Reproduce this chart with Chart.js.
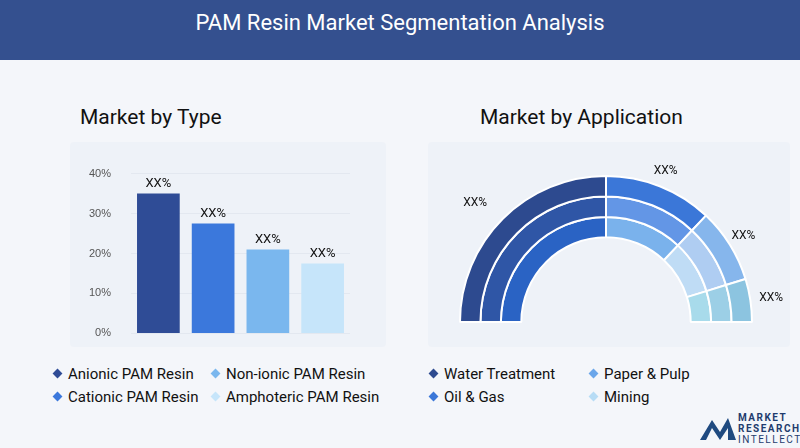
<!DOCTYPE html>
<html><head><meta charset="utf-8">
<script src="https://cdn.jsdelivr.net/npm/chart.js@4"></script>
<style>
body{margin:0;width:800px;height:448px;overflow:hidden;background:#f4f6fa;font-family:Roboto,"Open Sans",sans-serif;position:relative}
.hdr{position:absolute;left:0;top:0;width:800px;height:60px;background:#34508f;color:#fff;font-size:22px;text-align:center;line-height:46px}
.sub{position:absolute;font-size:21px;color:#111}
.card{position:absolute;background:#eef2f8;border-radius:4px}
.lg{position:absolute;font-size:15px;color:#111;white-space:nowrap}
.lg i{display:inline-block;width:7px;height:7px;transform:rotate(45deg);margin-right:7px;vertical-align:middle;position:relative;top:-2px}
canvas{position:absolute}
.logo{position:absolute;left:738px;top:412px;font-size:10px;font-weight:bold;color:#1f3c6e;line-height:11px;letter-spacing:1.5px}
</style></head><body>
<div class="hdr">PAM Resin Market Segmentation Analysis</div>
<div class="sub" style="left:80px;top:105px">Market by Type</div>
<div class="sub" style="left:480px;top:105px">Market by Application</div>
<div class="card" style="left:70px;top:142px;width:316px;height:205px"></div>
<div class="card" style="left:428px;top:142px;width:362px;height:205px"></div>
<canvas id="bar" width="275" height="213" style="left:75px;top:147px"></canvas>
<canvas id="pie" width="356" height="188" style="left:428px;top:145px"></canvas>
<div id="lg1"></div><div id="lg2"></div>
<svg style="position:absolute;left:698px;top:414px" width="40" height="28"><path d="M2 26 L14 6 L22 18 L30 4 L38 26 L30 26 L30 14 L22 26 L14 14 L8 26Z" fill="#1f4a80"/></svg>
<div class="logo">MARKET<br>RESEARCH<br><span style="font-weight:normal">INTELLECT</span></div>
<script>
const typeCats=["Anionic PAM Resin","Cationic PAM Resin","Non-ionic PAM Resin","Amphoteric PAM Resin"];
const typeVals=[35,27.5,21,17.5];
const typeColors=["#2f4c96","#3b78dc","#7ab7ee","#c6e5fa"];
const yTicks=[0,10,20,30,40];
const appCats=["Water Treatment","Paper & Pulp","Oil & Gas","Mining"];
const appVals=[50,24,16.5,9.5];
const ringColors=[["#2d4a8f","#3b77d8","#86b6ec","#8cc4e0"],["#2f56a6","#6396e6","#afcdf2","#9ccfe6"],["#2a63c4","#7ab2ec","#bfdcf5","#a8dbeb"]];
const legendColorsApp=["#2d4a8f","#6aa6ea","#3b77d8","#b7dcf5"];
const barLabel="XX%";

function legend(id,items,colors,order,x1,x2,y1,y2){
  const el=document.getElementById(id);
  const pos=[[x1,y1],[x2,y1],[x1,y2],[x2,y2]];
  order.forEach((i,k)=>{const [x,y]=pos[k];
    const d=document.createElement('div');d.className='lg';d.style.left=x+'px';d.style.top=y+'px';
    d.innerHTML='<i style="background:'+colors[i]+'"></i>'+items[i];el.appendChild(d);});
}
legend('lg1',typeCats,typeColors,[0,2,1,3],54,212,365,388);
legend('lg2',appCats,legendColorsApp,[0,1,2,3],430,590,365,388);

const barLbl={id:'bl',afterDatasetsDraw(c){const ctx=c.ctx;ctx.save();ctx.font='13px Roboto';ctx.fillStyle='#111';ctx.textAlign='center';ctx.textBaseline='bottom';
 c.getDatasetMeta(0).data.forEach(b=>ctx.fillText(barLabel,b.x,b.y-3));ctx.restore();}};
new Chart(document.getElementById('bar'),{type:'bar',data:{labels:typeCats,datasets:[{data:typeVals,backgroundColor:typeColors,categoryPercentage:0.78,barPercentage:1}]},
 options:{responsive:false,animation:false,layout:{padding:{top:12,right:0,bottom:7}},plugins:{legend:{display:false},tooltip:{enabled:false}},
 scales:{x:{display:false},y:{min:0,max:40,afterFit(s){s.width=56},afterBuildTicks(s){s.ticks=yTicks.map(v=>({value:v}))},
  ticks:{callback:v=>v+'%',color:'#555',font:{size:11},padding:20},grid:{color:'#e3e8f0',drawTicks:false},border:{display:false}}}},plugins:[barLbl]});

const pieLbl={id:'pl',afterDatasetsDraw(c){const ctx=c.ctx;ctx.save();ctx.font='12px Roboto';ctx.fillStyle='#111';ctx.textAlign='center';ctx.textBaseline='middle';
 const offs=[[-12,0],[0,0],[0,0],[5,0]];
 c.getDatasetMeta(0).data.forEach((a,i)=>{const m=(a.startAngle+a.endAngle)/2;const r=a.outerRadius+(i==0?22:16);
  ctx.fillText('XX%',a.x+Math.cos(m)*r+offs[i][0],a.y+Math.sin(m)*r);});ctx.restore();}};
new Chart(document.getElementById('pie'),{type:'doughnut',data:{labels:appCats,datasets:ringColors.map(cs=>({data:appVals,backgroundColor:cs,borderColor:'#fff',borderWidth:2}))},
 options:{responsive:false,animation:false,rotation:-90,circumference:180,cutout:'58%',layout:{padding:{left:30,right:30,top:30,bottom:10}},
 plugins:{legend:{display:false},tooltip:{enabled:false}}},plugins:[pieLbl]});
</script></body></html>
